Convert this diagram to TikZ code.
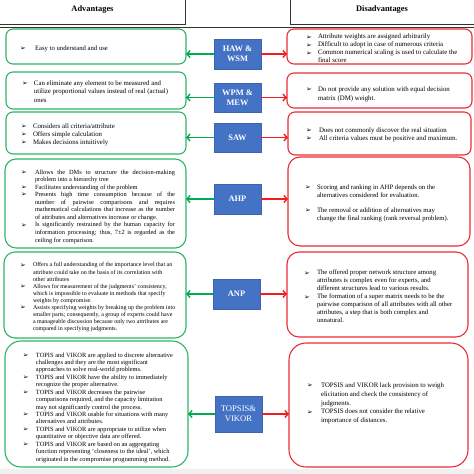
\documentclass[tikz,border=0pt]{standalone}
\usepackage{fontspec}
\setmainfont{Liberation Serif}
\newfontfamily\dejavu{DejaVu Sans}
\usetikzlibrary{arrows.meta}
\definecolor{gline}{RGB}{45,180,100}
\definecolor{rline}{RGB}{232,45,55}
\definecolor{garrow}{RGB}{0,170,80}
\definecolor{rarrow}{RGB}{240,30,30}
\definecolor{bfill}{RGB}{68,114,196}
\definecolor{bdraw}{RGB}{60,100,175}
\definecolor{hdrc}{RGB}{50,50,50}
\newlength\bind
\newcommand\bul{\raisebox{-0.2pt}{\dejavu\fontsize{6.8}{6.8}\selectfont ➢}}
\newcommand\itm[1]{\par\hangindent=\bind\hangafter=1\noindent\makebox[\bind][l]{\bul}#1\par}
\newcommand\fs[2]{\fontsize{#1}{#2}\selectfont}
\tikzset{
  gbox/.style={draw=gline, line width=1.1pt, rounded corners=#1, inner sep=0pt, outer sep=0pt},
  gbox/.default=7pt,
  rbox/.style={draw=rline, line width=1.1pt, rounded corners=#1, inner sep=0pt, outer sep=0pt},
  rbox/.default=7pt,
  bbox/.style={draw=bdraw, line width=0.6pt, fill=bfill, text=white, inner sep=0pt, outer sep=0pt,
    align=center, font=\bfseries\fs{8.4}{9.6}},
  hbox/.style={draw=hdrc, line width=1pt, fill=white, inner sep=0pt, outer sep=0pt},
  htxt/.style={font=\bfseries\fs{8.4}{10}, inner sep=0pt},
  txt/.style={anchor=west, inner sep=0pt, outer sep=0pt, text width=250pt, align=flush left},
  jtxt/.style={anchor=west, inner sep=0pt, outer sep=0pt, align=justify},
  garr/.style={draw=garrow, line width=1.4pt, -{Straight Barb[length=3.2pt,width=7pt]}},
  rarr/.style={draw=rarrow, line width=1.4pt, -{Straight Barb[length=3.2pt,width=7pt]}},
  hline/.style={draw=hdrc, line width=1pt}
}
\begin{document}
\begin{tikzpicture}[x=1pt,y=-1pt]
\useasboundingbox (0,0) rectangle (474,474);
\fill[white] (0,0) rectangle (474,474);
\fill[gray!12] (0,469) rectangle (474,474);
% header
\node[hbox, minimum width=188pt, minimum height=26pt] (hA) at (91,11.5) {};
\node[hbox, minimum width=187pt, minimum height=26pt] (hD) at (383.5,11.5) {};
\node[htxt] (tA) at (92.5,9.5) {Advantages};
\node[htxt] (tD) at (382,9.5) {Disadvantages};
\coordinate (hl1) at (0,27);
\coordinate (hl2) at (474,27);
\draw[hline] (hl1) -- (hl2);
% boxes
\node[gbox, minimum width=180pt, minimum height=35pt] (L1) at (96,46.5) {};
\node[rbox, minimum width=185pt, minimum height=35pt] (R1) at (379.5,46.5) {};
\node[bbox, minimum width=47pt, minimum height=30pt] (B1) at (237.5,54) {HAW \&\\WSM};
\node[gbox, minimum width=180pt, minimum height=37pt] (L2) at (96,90.5) {};
\node[rbox, minimum width=185pt, minimum height=35pt] (R2) at (379.5,90.5) {};
\node[bbox, minimum width=47pt, minimum height=29pt] (B2) at (237.5,97.5) {WPM \&\\MEW};
\node[gbox, minimum width=180pt, minimum height=42pt] (L3) at (96,133) {};
\node[rbox, minimum width=183pt, minimum height=43pt] (R3) at (379.5,133.5) {};
\node[bbox, minimum width=47pt, minimum height=29pt] (B3) at (237.5,137.5) {SAW};
\node[gbox=11pt, minimum width=181pt, minimum height=89pt] (L4) at (95.5,203.5) {};
\node[rbox=12pt, minimum width=182pt, minimum height=89pt] (R4) at (379,201.5) {};
\node[bbox, minimum width=47pt, minimum height=30pt] (B4) at (237.5,199) {AHP};
\node[gbox=11pt, minimum width=182pt, minimum height=86pt] (L5) at (95,295) {};
\node[rbox=12pt, minimum width=181pt, minimum height=85pt] (R5) at (377.5,294.5) {};
\node[bbox, minimum width=47pt, minimum height=30pt] (B5) at (236.5,294) {ANP};
\node[gbox=16pt, minimum width=183pt, minimum height=126pt] (L6) at (96.5,404) {};
\node[rbox=17pt, minimum width=179pt, minimum height=124pt] (R6) at (378.5,405) {};
\node[bbox, minimum width=47pt, minimum height=36pt, font=\fs{8.6}{10}] (B6) at (238.5,414) {TOPSIS\&\\VIKOR};
% arrows
\foreach \i in {1,...,6}{
  \draw[garr] (B\i.west) -- (B\i.west -| L\i.east);
  \draw[rarr] (B\i.east) -- (B\i.east -| R\i.west);
}
% texts
\node[txt] (tL1) at (20,47) {\fs{6.7}{8}\setlength\bind{15pt}%
\itm{Easy to understand and use}};
\node[txt] (tR1) at (306,47) {\fs{6.85}{8}\setlength\bind{12pt}%
\itm{Attribute weights are assigned arbitrarily}
\itm{Difficult to adopt in case of numerous criteria}
\itm{Common numerical scaling is used to calculate the\newline final score}};
\node[txt] (tL2) at (22,89.5) {\fs{6.8}{8.5}\setlength\bind{12pt}%
\itm{Can eliminate any element to be measured and\newline utilize proportional values instead of real (actual)\newline ones}};
\node[txt] (tR2) at (306,92) {\fs{6.85}{9.5}\setlength\bind{12pt}%
\itm{Do not provide any solution with equal decision\newline matrix (DM) weight.}};
\node[txt] (tL3) at (21,133) {\fs{6.85}{8}\setlength\bind{12pt}%
\itm{Considers all criteria/attribute}
\itm{Offers simple calculation}
\itm{Makes decisions intuitively}};
\node[txt] (tR3) at (306,133) {\fs{6.85}{8}\setlength\bind{13pt}%
\itm{Does not commonly discover the real situation}
\itm{All criteria values must be positive and maximum.}};
\node[jtxt, text width=154pt] (tL4) at (21,205) {\fs{6.35}{7.55}\setlength\bind{14pt}%
\itm{Allows the DMs to structure the decision-making\linebreak problem into a hierarchy tree}
\itm{Facilitates understanding of the problem}
\itm{Presents high time consumption because of the\linebreak number of pairwise comparisons and requires\linebreak mathematical calculations that increase as the number\linebreak of attributes and alternatives increase or change.}
\itm{Is significantly restrained by the human capacity for\linebreak information processing; thus, 7±2 is regarded as the\linebreak ceiling for comparison.}};
\node[txt] (tR4) at (305,201.5) {\fs{6.7}{8}\setlength\bind{12pt}%
\itm{Scoring and ranking in AHP depends on the\newline alternatives considered for evaluation.}
\vskip7pt
\itm{The removal or addition of alternatives may\newline change the final ranking (rank reversal problem).}};
\node[txt] (tL5) at (20,296) {\fs{6.0}{7.1}\setlength\bind{13pt}%
\itm{Offers a full understanding of the importance level that an\newline attribute could take on the basis of its correlation with\newline other attributes}
\itm{Allows for measurement of the judgments’ consistency,\newline which is impossible to evaluate in methods that specify\newline weights by compromise.}
\itm{Assists specifying weights by breaking up the problem into\newline smaller parts; consequently, a group of experts could have\newline a manageable discussion because only two attributes are\newline compared in specifying judgments.}};
\node[txt] (tR5) at (304,295) {\fs{6.7}{8}\setlength\bind{13pt}%
\itm{The offered proper network structure among\newline attributes is complex even for experts, and\newline different structures lead to various results.}
\itm{The formation of a super matrix needs to be the\newline pairwise comparison of all attributes with all other\newline attributes, a step that is both complex and\newline unnatural.}};
\node[txt] (tL6) at (23,406) {\fs{6.4}{7.43}\setlength\bind{13pt}%
\itm{TOPIS and VIKOR are applied to discrete alternative\newline challenges and they are the most significant\newline approaches to solve real-world problems.}
\itm{TOPIS and VIKOR have the ability to immediately\newline recognize the proper alternative.}
\itm{TOPIS and VIKOR decreases the pairwise\newline comparisons required, and the capacity limitation\newline may not significantly control the process.}
\itm{TOPIS and VIKOR usable for situations with many\newline alternatives and attributes.}
\itm{TOPIS and VIKOR are appropriate to utilize when\newline quantitative or objective data are offered.}
\itm{TOPIS and VIKOR are based on an aggregating\newline function representing ‘closeness to the ideal’, which\newline originated in the compromise programming method.}};
\node[txt] (tR6) at (307,401.5) {\fs{6.8}{8.7}\setlength\bind{14pt}%
\itm{TOPSIS and VIKOR lack provision to weigh\newline elicitation and check the consistency of\newline judgments.}
\itm{TOPSIS does not consider the relative\newline importance of distances.}};
\end{tikzpicture}
\end{document}
